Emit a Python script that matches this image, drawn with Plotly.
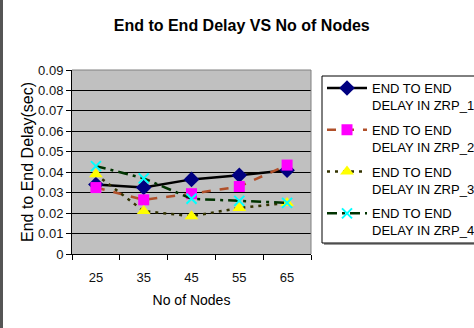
import plotly.graph_objects as go

# Number of nodes in the network (category axis)
nodes = ["25", "35", "45", "55", "65"]

# Average end-to-end delay (seconds) for each ZRP configuration
delay_zrp_1 = [0.034, 0.0325, 0.0365, 0.0385, 0.041]
delay_zrp_2 = [0.0325, 0.0265, 0.0295, 0.033, 0.0435]
delay_zrp_3 = [0.039, 0.021, 0.0185, 0.0225, 0.025]
delay_zrp_4 = [0.043, 0.037, 0.027, 0.026, 0.025]

series_names = [
    "END TO END<br>DELAY IN ZRP_1",
    "END TO END<br>DELAY IN ZRP_2",
    "END TO END<br>DELAY IN ZRP_3",
    "END TO END<br>DELAY IN ZRP_4",
]

y_ticks = [0, 0.01, 0.02, 0.03, 0.04, 0.05, 0.06, 0.07, 0.08, 0.09]
y_tick_text = ["0", "0.01", "0.02", "0.03", "0.04", "0.05", "0.06", "0.07", "0.08", "0.09"]

FONT = "Liberation Sans, Arial, sans-serif"

fig = go.Figure()

fig.add_trace(go.Scatter(
    x=nodes, y=delay_zrp_1, name=series_names[0], legendgroup="g1",
    mode="lines+markers",
    line=dict(color="#000000", width=2.5),
    marker=dict(symbol="diamond", size=12, color="#000080",
                line=dict(color="#000080", width=0)),
))
fig.add_trace(go.Scatter(
    x=nodes, y=delay_zrp_2, name=series_names[1], legendgroup="g2",
    mode="lines+markers",
    line=dict(color="#b0502a", width=2.5, dash="dash"),
    marker=dict(symbol="square", size=11, color="#ff00ff",
                line=dict(color="#ff00ff", width=0)),
))
fig.add_trace(go.Scatter(
    x=nodes, y=delay_zrp_3, name=series_names[2], legendgroup="g3",
    mode="lines+markers",
    line=dict(color="#333300", width=2.5, dash="3px,5px"),
    marker=dict(symbol="triangle-up", size=12, color="#ffff00",
                line=dict(color="#ffff00", width=0)),
))
fig.add_trace(go.Scatter(
    x=nodes, y=delay_zrp_4, name=series_names[3], legendgroup="g4",
    mode="lines+markers",
    line=dict(color="#003300", width=2.5, dash="10px,5px,3px,5px"),
    marker=dict(symbol="x-thin", size=10, color="#00ffff",
                line=dict(color="#00ffff", width=2)),
))

# plotting area spans 72..311 px horizontally and 70..254 px vertically
PX_W, PX_H = 239, 184

fig.update_layout(
    width=474, height=328,
    margin=dict(l=72, r=163, t=70, b=74, autoexpand=False),
    paper_bgcolor="#ffffff",
    plot_bgcolor="#c0c0c0",
    font=dict(family=FONT, size=13, color="#000000"),
    title=dict(
        text="<b>End to End Delay VS No of Nodes</b>",
        font=dict(family=FONT, size=16, color="#000000"),
        x=0.51, xref="container", xanchor="center",
        y=1 - 25 / 328, yref="container", yanchor="middle",
    ),
    xaxis=dict(
        type="category", categoryorder="array", categoryarray=nodes,
        showgrid=False, showline=True, linecolor="#000000", linewidth=1,
        ticks="outside", tickson="boundaries", ticklen=5, tickcolor="#000000",
        tickfont=dict(family=FONT, size=13, color="#111111"),
        ticklabelstandoff=11,
        title=dict(text="No of Nodes", font=dict(family=FONT, size=14), standoff=11),
        range=[-0.5, 4.5],
        zeroline=False,
    ),
    yaxis=dict(
        range=[0, 0.09], tickvals=y_ticks, ticktext=y_tick_text,
        showgrid=True, gridcolor="#000000", gridwidth=1,
        showline=True, linecolor="#000000", linewidth=1,
        ticks="outside", ticklen=5, tickcolor="#000000",
        tickfont=dict(family=FONT, size=13, color="#111111"),
        title=dict(text="End to End Delay(sec)", font=dict(family=FONT, size=16), standoff=0),
        zeroline=False,
    ),
    legend=dict(
        x=1 + (322 - 311) / PX_W, xref="paper", xanchor="left",
        y=(254 - 73) / PX_H, yref="paper", yanchor="top",
        borderwidth=0, bgcolor="rgba(0,0,0,0)",
        font=dict(family=FONT, size=13, color="#000000"),
        valign="top", tracegroupgap=5, itemwidth=40,
    ),
    shapes=[
        # top and right border of the plotting area
        dict(type="line", xref="paper", yref="paper", x0=0, x1=1, y0=1, y1=1,
             line=dict(color="#808080", width=1)),
        dict(type="line", xref="paper", yref="paper", x0=1, x1=1, y0=0, y1=1,
             line=dict(color="#808080", width=1)),
        # legend frame with a soft shadow along its bottom
        dict(type="rect", xref="paper", yref="paper", layer="below",
             x0=1 + (324 - 311) / PX_W, x1=1 + (480 - 311) / PX_W,
             y0=(254 - 245) / PX_H, y1=(254 - 78) / PX_H,
             line=dict(width=0), fillcolor="#9a9a9a"),
        dict(type="rect", xref="paper", yref="paper", layer="below",
             x0=1 + (322 - 311) / PX_W, x1=1 + (480 - 311) / PX_W,
             y0=(254 - 243) / PX_H, y1=(254 - 76) / PX_H,
             line=dict(color="#000000", width=1), fillcolor="#ffffff"),
        # dark frame strip at the left edge of the chart
        dict(type="rect", xref="paper", yref="paper",
             x0=-72 / PX_W, x1=-69 / PX_W, y0=-74 / PX_H, y1=1 + 70 / PX_H,
             line=dict(width=0), fillcolor="#555555"),
    ],
)

fig.write_html("out.html")
